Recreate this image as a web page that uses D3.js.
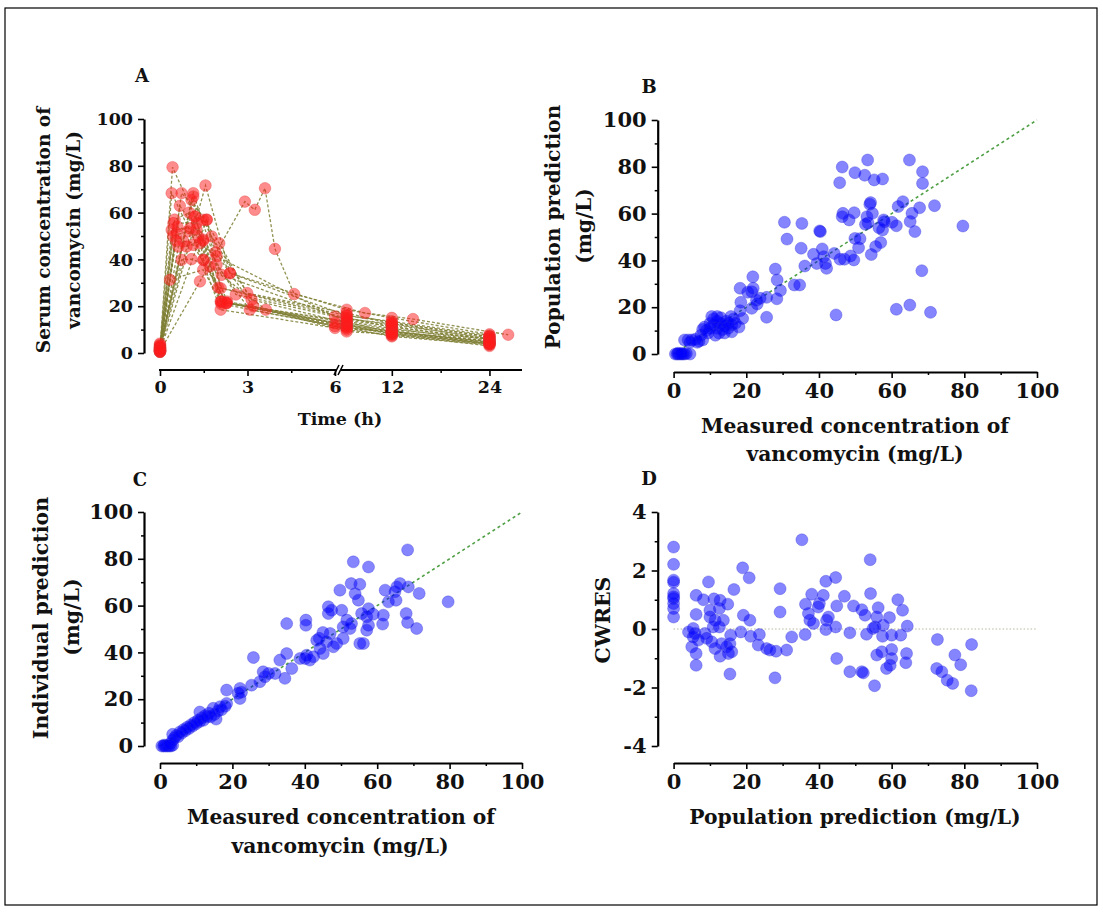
<!DOCTYPE html>
<html><head><meta charset="utf-8">
<script src="https://cdn.jsdelivr.net/npm/d3@7/dist/d3.min.js"></script>
<style>
body{margin:0;background:#fff}
svg text{font-family:"DejaVu Serif",serif;font-weight:bold;fill:#111}
</style></head><body><div id="chart"></div>
<script>
// panel A: individual concentration-time profiles [time h, conc mg/L]
var profilesA = [
  [[0,2],[0.43,79.4],[1.2,58.3],[2.1,22],[6.45,13],[12,9],[24,5]],
  [[0,1],[0.4,68.3],[1.5,39.8],[2.28,21.3],[6.45,12],[12,8],[24,4]],
  [[0,3],[0.74,68.3],[1.6,56.9],[2.08,27.7],[6.45,15],[12,11],[24,6]],
  [[0,1.5],[0.68,62.9],[1.48,48.4],[2.11,22],[6,12.8],[12,9.2],[24,5]],
  [[0,0.5],[1.14,68.3],[1.94,37.7],[3.08,18.5],[6.45,10.7],[12,7.1],[24,3.5]],
  [[0,2.5],[1.08,65.4],[2.03,46.9],[2.99,25.6],[6.45,17],[12,12.8],[24,7]],
  [[0,1],[1.56,71.6],[2.4,34.1],[6.45,18.5],[12,15],[24,8]],
  [[0,0.8],[1.37,30.6],[2.91,64.7],[3.25,61.2],[3.6,70.4],[3.94,44.5],[4.6,25.2],[8.7,17.1],[14.6,14.5],[26.3,7.8]],
  [[0,2],[0.4,52.6],[1.03,53.3],[2.08,18.5],[6,10.7],[12,9.2],[24,4]],
  [[0,3.5],[0.46,55.5],[1.26,55.5],[2.11,33.4],[6.45,14],[12,11.4],[24,5.5]],
  [[0,1],[0.57,51.2],[0.91,45.5],[1.77,49.8],[3.14,22.8],[6.45,12.8],[12,10],[24,6]],
  [[0,2],[0.8,47.7],[1.37,46.9],[1.94,41.3],[6,15.6],[12,12],[24,6.5]],
  [[0,0.5],[0.63,45.5],[1.14,46.2],[2.28,21.5],[6.45,11.5],[12,8.5],[24,4]],
  [[0,4],[0.74,39.8],[1.08,40.1],[1.71,37],[3.63,18.5],[6.45,9.2],[12,8],[24,3]],
  [[0,1],[0.34,31.3],[1.48,35.6],[2.08,22],[6.45,11],[12,9],[24,4.5]],
  [[0,2],[1.2,58.3],[1.48,56.9],[2.4,34.1],[6.45,16],[12,13.5],[24,7.5]],
  [[0,1],[1.14,66.9],[1.48,39.8],[2.28,21.3],[6.45,13.5],[12,10.5],[24,5]],
  [[0,2.5],[0.5,57],[1.0,60],[2.0,28],[6.45,16],[12,13],[24,7]],
  [[0,0.5],[0.6,54],[1.3,50],[2.1,21],[6,11.5],[12,8.5],[24,4]],
  [[0,1.5],[0.45,50],[0.95,52],[1.48,48],[2.3,22],[6.45,12],[12,9.5],[24,4.5]],
  [[0,3],[0.55,48],[1.25,53],[2.6,25],[6.45,14.5],[12,12.5],[24,6]],
  [[0,1.2],[1.6,57],[1.9,43],[3.2,20],[6.45,10],[12,7.5],[24,3.8]]
];
var ticksA_y = [0,20,40,60,80,100], minorA_y = [10,30,50,70,90];
var ticksA_x1 = [0,3,6], minorA_x1 = [1.5,4.5], ticksA_x2 = [12,24], minorA_x2 = [18];

// panel B: [measured, population prediction]
var obsPredB = [
 [0.5,0],[1,0],[1.5,0],[2,0],[2.5,0],[3,0],[3.5,0.2],[4.5,0],[1.2,0.3],[2.2,0.2],
 [3,6],[4,6],[5,6],[6,6.3],[7,5.5],[8,6],[4.5,5],[6.5,5],[7.5,8],[8,10.5],[8.5,11.5],[9,10],[10,11],[10,13],[11,15],[11,12.5],[12,14],[12,11],[12.5,9],[13,13],[13.5,10.5],[14,12],[14.5,14],[15,11],[15,13],[16,9.5],[16,12.5],[16.5,15],[17,13.1],[18,11.5],[11.5,8],[9.5,9],[13,15.5],[14,9],[15.8,16],[10.5,16],[12,16],
 [19,15.2],[18.3,18.5],[18.5,22.1],[18.3,28.1],[20.4,26.4],[21.5,19.5],[21.5,26.6],[21.9,28.1],[21.8,33],[23,21.4],[22.8,23],[23.8,23.8],[25.6,24.2],[25.6,15.7],[28.4,23.6],[29.4,27.1],[28.5,31.6],[28,36.3],[33.2,29.5],[34.7,29.5],[30.5,56.3],[31.2,49.1],[35.3,55.8],[35.1,45.2],[36.1,37.6],
 [38.5,42.6],[39.4,38.7],[40.4,52.3],[40.2,52.6],[40.9,44.9],[41.3,41.6],[41.8,38.7],[42.1,36.6],[44.2,43],[44.7,16.7],
 [45.8,40.5],[47,40.5],[48.7,41.9],[49.6,40.2],[46.6,60.1],[46.4,58.7],[48.3,57.3],[46.4,79.9],[45.7,73.2],[49.9,77.5],[52.6,76.4],[55.2,74.4],[57.5,74.8],[53.4,82.9],[49.7,60.4],[49.9,49.4],[50.9,45.4],[51.3,49.3],[52.8,55.4],[53.2,58.7],[54.2,64.7],[54.7,60.1],[54.4,42.5],[55.6,45.9],[57,47.6],[57.5,53],[57.8,57.3],[60.1,56.3],[61.3,54.8],[61.8,63],[63.1,65.1],[64.9,82.9],[65.1,56.6],[65.6,60.1],[66.4,52.3],[67.7,62.5],[68.5,77.9],[68.5,72.9],[68.3,35.6],[71.8,63.4],[79.6,54.7],[61.3,19.1],[65,20.9],[70.7,17.8],[53.5,56],[54,64],[58,56.5],[56.5,54]
];

// panel C: [measured, individual prediction]
var obsIpredC = [
 [0.5,0],[1,0],[1.5,0],[2,0],[2.5,0],[3,0],[3.5,0.3],[1.2,0.4],[2.8,1],[3.5,2.5],[4,3.5],[4.5,4.5],[3.5,5],[5,4],[5.5,6],[6,5.5],[6.5,7],[7,6.5],[7.5,8],[8,7.5],[8.5,9],[9,8.5],[9.5,10],[10,9.5],[10.5,11],[11,10.5],[11,14.5],[11.5,12],[12,11],[12.5,13],[13,12.5],[13.5,14],[14,12.5],[14.7,16.1],[15,13.5],[15.5,11.5],[16,15],[16.6,16.8],[17,15.5],[18,17],[18.4,18.2],[18.4,23.9],[21.6,22.5],[22.1,24.6],[22.1,20.3],[22.5,23],
 [25.3,26],[25.8,37.8],[27.6,27.5],[28.5,31.7],[29,29.6],[30,31],[31.8,31],[33.1,36.7],[34.5,28.9],[35,39.5],[35,52.3],[36.4,33.1],[38.7,37.4],[40.1,37.4],[40.5,38.8],[41.4,36.7],[40.3,53.8],[40.3,51.6],[42.4,38.1],[43.3,45.2],[44.2,41.7],[45.1,39.5],[46,44.5],[47,48.1],[47.9,42.4],[48.8,43.8],[46.5,59.5],[46.5,56.6],[47.4,58],[50.2,58],[49.7,66.6],[50.6,45.9],[50.6,50.9],[51.6,53.8],[52.5,50.2],[52.9,52.3],[53.4,78.7],[52.8,69.4],[55.2,69.1],[53.9,65.1],[54.8,62.3],[55.2,43.8],[56.2,43.8],[55.7,56.6],[57.1,55.2],[57.6,58.7],[57.6,51.6],[57.1,49.5],[57.6,76.5],[58.9,56.3],[61.5,52.1],[61.7,55.9],[62.2,66.6],[63.1,61.6],[65.2,62.3],[64.9,65.9],[65.4,68],[66.3,69.4],[68.6,68],[68,56.6],[68.4,52.8],[68.4,83.8],[70.9,50.2],[71.6,65.2],[79.6,61.6],[44,46],[45,48.5]
];

// panel D: [population prediction, CWRES]
var predCwresD = [
 [0,2.8],[0,2.21],[0,1.67],[0,1.6],[0,1.21],[0,1.04],[0,0.87],[0,0.7],[0,0.41],[0,1.1],
 [35.3,3.05],[54.1,2.37],[19,2.09],[20.8,1.75],[9.6,1.61],[16.6,1.35],[29.3,1.38],[41.9,1.63],[44.6,1.76],
 [6.2,1.15],[8.2,1],[11.1,1.03],[12.8,0.98],[14.9,0.85],[12.6,0.7],[38,1.19],[41.2,1.15],[47,1.12],[54.2,1.21],[61.7,1],[63,0.64],
 [36.3,0.85],[40.1,0.87],[39.8,0.75],[44.9,0.79],[49.5,0.79],[51.8,0.66],[56.3,0.73],[52.7,0.47],[55.9,0.41],[59.4,0.39],[64.3,0.1],
 [6.2,0.5],[10,0.41],[10,0.64],[11.4,0.3],[13.7,0.3],[19.2,0.47],[21,0.3],[29.3,0.58],[37.5,0.3],[42.1,0.3],[42.6,0.41],[37.1,0.53],[38.5,0.19],[41.9,-0.02],[44.6,0.07],[55.4,0.07],[54.9,0.02],[57.7,0.13],
 [4.1,-0.1],[5.4,0.02],[5.9,-0.15],[5.4,-0.27],[6.8,-0.38],[5,-0.61],[6.2,-0.84],[6.2,-1.24],[8.6,-0.15],[10.9,0.07],[12.6,0.07],[9.1,-0.32],[10.5,-0.44],[11.4,-0.67],[12.8,-0.93],[14.6,-0.61],[15.5,-0.5],[16,-0.78],[15.1,-0.84],[13.2,-0.5],[15.7,-0.21],[15.5,-1.54],
 [18.5,-0.1],[21.2,-0.25],[23.6,-0.19],[23.3,-0.55],[25.6,-0.67],[26.5,-0.72],[28.2,-0.76],[31.1,-0.72],[32.5,-0.27],[27.9,-1.67],[36.2,-0.19],[44.9,-1.01],[48.5,-0.13],[53.1,-0.18],[57.5,-0.25],[60,-0.21],[62.5,-0.21],
 [55.9,-0.89],[57.3,-0.78],[60,-0.7],[60,-1.01],[59.6,-1.24],[58.6,-1.35],[64.1,-0.84],[63.9,-1.15],[48.5,-1.46],[51.8,-1.46],[52.2,-1.5],[55.3,-1.94],
 [72.6,-0.36],[82,-0.53],[77.4,-0.89],[79,-1.22],[72.4,-1.35],[73.8,-1.46],[75.3,-1.75],[76.8,-1.86],[81.9,-2.11]
];
var ticks100 = [0,20,40,60,80,100], minor100 = [10,30,50,70,90];
var ticksD_y = [-4,-2,0,2,4], minorD_y = [-3,-1,1,3];

var svg = d3.select("#chart").append("svg").attr("width",1103).attr("height",914);
svg.append("rect").attr("x",5).attr("y",8).attr("width",1092).attr("height",897)
  .attr("fill","#fff").attr("stroke","#000").attr("stroke-width",1.2);

function styleAxis(a, size){
  a.select(".domain").attr("stroke","#000").attr("stroke-width",2.2);
  a.selectAll(".tick line").attr("stroke","#000").attr("stroke-width",1.6);
  a.selectAll(".tick text").style("font-size", size+"px").attr("fill","#111");
}
function addAxis(axisFn, scale, tr, major, minor, size, len){
  var a = svg.append("g").attr("transform", tr)
    .call(axisFn(scale).tickValues(major).tickSize(len).tickSizeOuter(0).tickPadding(5).tickFormat(function(d){ return String(d); }));
  styleAxis(a, size);
  if(minor){
    var m = svg.append("g").attr("transform", tr)
      .call(axisFn(scale).tickValues(minor).tickSize(len/2).tickSizeOuter(0).tickFormat(""));
    m.select(".domain").remove();
    m.selectAll("line").attr("stroke","#000").attr("stroke-width",1.5);
  }
  return a;
}
function label(txt, x, y, size, rot){
  var t = svg.append("text").attr("text-anchor","middle").attr("dominant-baseline","middle")
    .style("font-size", size+"px").text(txt);
  if(rot) t.attr("transform","translate("+x+","+y+") rotate(-90)");
  else t.attr("x",x).attr("y",y);
  return t;
}

// ---- Panel A
var xA1 = d3.scaleLinear().domain([0,6]).range([160,335]);
var xA2 = d3.scaleLinear().domain([6,28]).range([343,522]);
var yA = d3.scaleLinear().domain([0,100]).range([353,119]);
function xA(t){ return t <= 6 ? xA1(t) : xA2(t); }

var lineA = d3.line().x(function(d){ return xA(d[0]); }).y(function(d){ return yA(d[1]); });
svg.append("g").selectAll("path").data(profilesA).enter().append("path")
  .attr("d", lineA).attr("fill","none").attr("stroke","#7f7f35")
  .attr("stroke-width",1.3).attr("stroke-dasharray","3,2").attr("stroke-opacity",0.85);
svg.append("g").selectAll("circle").data(d3.merge(profilesA)).enter().append("circle")
  .attr("cx", function(d){ return xA(d[0]); }).attr("cy", function(d){ return yA(d[1]); })
  .attr("r",5.8).attr("fill","#ff1a1a").attr("fill-opacity",0.5)
  .attr("stroke","#e03030").attr("stroke-opacity",0.35);

addAxis(d3.axisLeft, yA, "translate(144,0)", ticksA_y, minorA_y, 17.5, 6);
var ax1 = addAxis(d3.axisBottom, xA1, "translate(0,370)", ticksA_x1, minorA_x1, 17.5, 6);
var ax2 = addAxis(d3.axisBottom, xA2, "translate(0,370)", ticksA_x2, minorA_x2, 17.5, 6);
ax1.select(".domain").attr("d","M159,0H"+(xA1.range()[1]+2));
ax2.select(".domain").attr("d","M"+(xA2.range()[0]-2)+",0H"+xA2.range()[1]);
// break marks
[xA1.range()[1]+1, xA2.range()[0]-3].forEach(function(bx){
  svg.append("line").attr("x1",bx-2).attr("y1",375).attr("x2",bx+3).attr("y2",365)
    .attr("stroke","#000").attr("stroke-width",1.6);
});
label("A", 142, 77, 18);
label("Serum concentration of", 45, 230, 18.5, true);
label("vancomycin (mg/L)", 75, 230, 18.5, true);
label("Time (h)", 340, 420, 17.5);

// ---- Scatter panels
function scatter(data, x, y){
  svg.append("g").selectAll("circle").data(data).enter().append("circle")
    .attr("cx", function(d){ return x(d[0]); }).attr("cy", function(d){ return y(d[1]); })
    .attr("r",6).attr("fill","#0000ff").attr("fill-opacity",0.48)
    .attr("stroke","#2020d0").attr("stroke-opacity",0.3);
}

// ---- Panel B
var xB = d3.scaleLinear().domain([0,100]).range([673.6,1037]);
var yB = d3.scaleLinear().domain([0,100]).range([354,120]);
svg.append("line").attr("x1",xB(0)).attr("y1",yB(0)).attr("x2",xB(100)).attr("y2",yB(100))
  .attr("stroke","#4f9f45").attr("stroke-width",1.6).attr("stroke-dasharray","3,3");
scatter(obsPredB, xB, yB);
addAxis(d3.axisLeft, yB, "translate(657.7,0)", ticks100, minor100, 21, 6);
addAxis(d3.axisBottom, xB, "translate(0,372)", ticks100, minor100, 21, 6);
label("B", 649, 88, 18);
label("Population prediction", 554, 227, 20, true);
label("(mg/L)", 585, 226, 20, true);
label("Measured concentration of", 855, 427, 20.3);
label("vancomycin (mg/L)", 855, 455, 20.3);

// ---- Panel C
var xC = d3.scaleLinear().domain([0,100]).range([160,522]);
var yC = d3.scaleLinear().domain([0,100]).range([746,512]);
svg.append("line").attr("x1",xC(0)).attr("y1",yC(0)).attr("x2",xC(100)).attr("y2",yC(100))
  .attr("stroke","#4f9f45").attr("stroke-width",1.6).attr("stroke-dasharray","3,3");
scatter(obsIpredC, xC, yC);
addAxis(d3.axisLeft, yC, "translate(144,0)", ticks100, minor100, 21, 6);
addAxis(d3.axisBottom, xC, "translate(0,763)", ticks100, minor100, 21, 6);
label("C", 140, 481, 18);
label("Individual prediction", 42, 618, 20.5, true);
label("(mg/L)", 73, 617, 20.5, true);
label("Measured concentration of", 341, 818, 20.3);
label("vancomycin (mg/L)", 340, 847, 20.3);

// ---- Panel D
var xD = d3.scaleLinear().domain([0,100]).range([673.6,1037]);
var yD = d3.scaleLinear().domain([-4,4]).range([746,512]);
svg.append("line").attr("x1",xD(0)).attr("y1",yD(0)).attr("x2",xD(100)).attr("y2",yD(0))
  .attr("stroke","#b8b8a0").attr("stroke-width",1.2).attr("stroke-dasharray","1.5,2");
scatter(predCwresD, xD, yD);
addAxis(d3.axisLeft, yD, "translate(657.7,0)", ticksD_y, minorD_y, 21, 6);
addAxis(d3.axisBottom, xD, "translate(0,763)", ticks100, minor100, 21, 6);
label("D", 649, 480, 18);
label("CWRES", 604, 620, 20.5, true);
label("Population prediction (mg/L)", 855, 818, 20.3);
</script></body></html>
